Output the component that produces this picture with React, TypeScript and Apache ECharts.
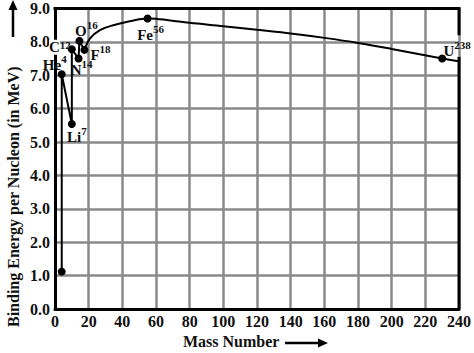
import React, { useEffect, useRef } from 'react';
import * as echarts from 'echarts';

// Light nuclei (joined by straight segments)
const lightMass = [4, 4, 10, 10, 14, 14.5, 17.5];
const lightEnergy = [1.12, 7.03, 5.54, 7.78, 7.5, 8.03, 7.76];
const lightElement = ['', 'He', 'Li', 'C', 'N', 'O', 'F'];
const lightIsotope = ['', '4', '7', '12', '14', '16', '18'];

// Smooth curve from F18 through Fe56 to U238
const curveMass = [17.5, 20.7, 26.7, 34.6, 44.4, 55, 60, 80, 100, 120, 140, 160, 180, 200, 230, 240];
const curveEnergy = [7.76, 8.1, 8.35, 8.5, 8.62, 8.7, 8.69, 8.57, 8.47, 8.36, 8.25, 8.12, 7.97, 7.79, 7.5, 7.42];
const curveElement = ['', '', '', '', '', 'Fe', '', '', '', '', '', '', '', '', 'U', ''];
const curveIsotope = ['', '', '', '', '', '56', '', '', '', '', '', '', '', '', '238', ''];

const xMin = 0, xMax = 240, xStep = 20;
const yMin = 0, yMax = 9, yStep = 1;
const xTitle = 'Mass Number';
const yTitle = 'Binding Energy per Nucleon (in MeV)';

const FONT = 'Liberation Serif';

const placement: Record<string, { position: string; offset: number[]; bg?: boolean }> = {
  He: { position: 'top', offset: [-7, 5] },
  Li: { position: 'bottom', offset: [5, -6] },
  C: { position: 'left', offset: [6, -2], bg: true },
  N: { position: 'bottom', offset: [3, -7] },
  O: { position: 'top', offset: [7, 5] },
  F: { position: 'right', offset: [-1, 3] },
  Fe: { position: 'bottom', offset: [3, -2] },
  U: { position: 'top', offset: [15, 7] },
};

const baseText = { fontFamily: FONT, fontWeight: 'bold', fontSize: 15, color: '#111', lineHeight: 19, verticalAlign: 'bottom' };
const rich = {
  b: baseText,
  bw: { ...baseText, lineHeight: 15, backgroundColor: '#fff' },
  s: { fontFamily: FONT, fontWeight: 'bold', fontSize: 11, color: '#111', lineHeight: 11, verticalAlign: 'top' },
};

function makeData(mass: number[], energy: number[], el: string[], iso: string[], alwaysNone: boolean) {
  return mass.map((m, i) => {
    const name = el[i];
    const item: any = { value: [m, energy[i]] };
    if (name) {
      const pl = placement[name];
      item.symbol = 'circle';
      item.symbolSize = 8;
      item.label = {
        show: true,
        position: pl.position,
        offset: pl.offset,
        distance: 3,
        formatter: `{${pl.bg ? 'bw' : 'b'}|${name}}{s|${iso[i]}}`,
        rich,
      };
    } else {
      item.symbol = alwaysNone ? 'none' : 'circle';
      item.symbolSize = alwaysNone ? 0 : 8;
    }
    return item;
  });
}

export default function App() {
  const ref = useRef<HTMLDivElement>(null);
  useEffect(() => {
    document.body.style.margin = '0';
    const chart = echarts.init(ref.current!, null, { renderer: 'svg' });
    const axisLabel = { fontFamily: FONT, fontWeight: 'bold', fontSize: 16, color: '#111' };
    chart.setOption({
      animation: false,
      backgroundColor: '#fff',
      grid: { left: 55, top: 8.5, right: 14, bottom: 44, containLabel: false },
      xAxis: {
        type: 'value', min: xMin, max: xMax, interval: xStep,
        axisLine: { show: true, lineStyle: { color: '#000', width: 3 } },
        axisTick: { show: false },
        axisLabel: { ...axisLabel, margin: 4, showMaxLabel: true },
        splitLine: { show: true, lineStyle: { color: '#8a8a8a', width: 2.5 } },
      },
      yAxis: {
        type: 'value', min: yMin, max: yMax, interval: yStep,
        axisLine: { show: true, lineStyle: { color: '#000', width: 3 } },
        axisTick: { show: false },
        axisLabel: { ...axisLabel, margin: 5, formatter: (v: number) => v.toFixed(1) },
        splitLine: { show: true, lineStyle: { color: '#8a8a8a', width: 2.5 } },
      },
      series: [
        {
          type: 'line',
          data: makeData(lightMass, lightEnergy, lightElement, lightIsotope, false),
          lineStyle: { color: '#000', width: 2 },
          itemStyle: { color: '#000' },
          z: 5,
        },
        {
          type: 'line',
          smooth: 0.35,
          data: makeData(curveMass, curveEnergy, curveElement, curveIsotope, true),
          lineStyle: { color: '#000', width: 2 },
          itemStyle: { color: '#000' },
          z: 5,
        },
      ],
    });
    const p = (x: number, y: number) => chart.convertToPixel({ gridIndex: 0 }, [x, y]) as number[];
    const [gx0, gyTop] = p(xMin, yMax);
    const [gx1, gy0] = p(xMax, yMin);
    const gapTop = p(xMax, 8.2)[1];
    const gapBot = p(xMax, 7.55)[1];
    const black = { stroke: '#000', lineWidth: 3 };
    chart.setOption({
      graphic: [
        { type: 'line', z: 10, shape: { x1: gx0 - 1.5, y1: gyTop, x2: gx1 + 1.5, y2: gyTop }, style: black },
        { type: 'line', z: 10, shape: { x1: gx1, y1: gyTop, x2: gx1, y2: gapTop }, style: black },
        { type: 'line', z: 10, shape: { x1: gx1, y1: gapBot, x2: gx1, y2: gy0 }, style: black },
        {
          type: 'text', z: 10, x: 183, y: 341,
          style: { text: xTitle, fontFamily: FONT, fontWeight: 'bold', fontSize: 16, fill: '#111', align: 'left', verticalAlign: 'middle' },
        },
        { type: 'line', z: 10, shape: { x1: 285, y1: 343, x2: 320, y2: 343 }, style: { stroke: '#000', lineWidth: 2.5 } },
        { type: 'polygon', z: 10, shape: { points: [[318, 338.5], [328, 343], [318, 347.5]] }, style: { fill: '#000' } },
        {
          type: 'text', z: 10, x: 13, y: 327, rotation: Math.PI / 2,
          style: { text: yTitle, fontFamily: FONT, fontWeight: 'bold', fontSize: 16, fill: '#111', align: 'left', verticalAlign: 'middle' },
        },
        { type: 'line', z: 10, shape: { x1: 13, y1: 37, x2: 13, y2: 8 }, style: { stroke: '#000', lineWidth: 2.5 } },
        { type: 'polygon', z: 10, shape: { points: [[8.5, 10], [13, 0], [17.5, 10]] }, style: { fill: '#000' } },
      ],
    });
    return () => chart.dispose();
  }, []);
  return <div ref={ref} style={{ position: 'fixed', left: 0, top: 0, width: 474, height: 353 }} />;
}
